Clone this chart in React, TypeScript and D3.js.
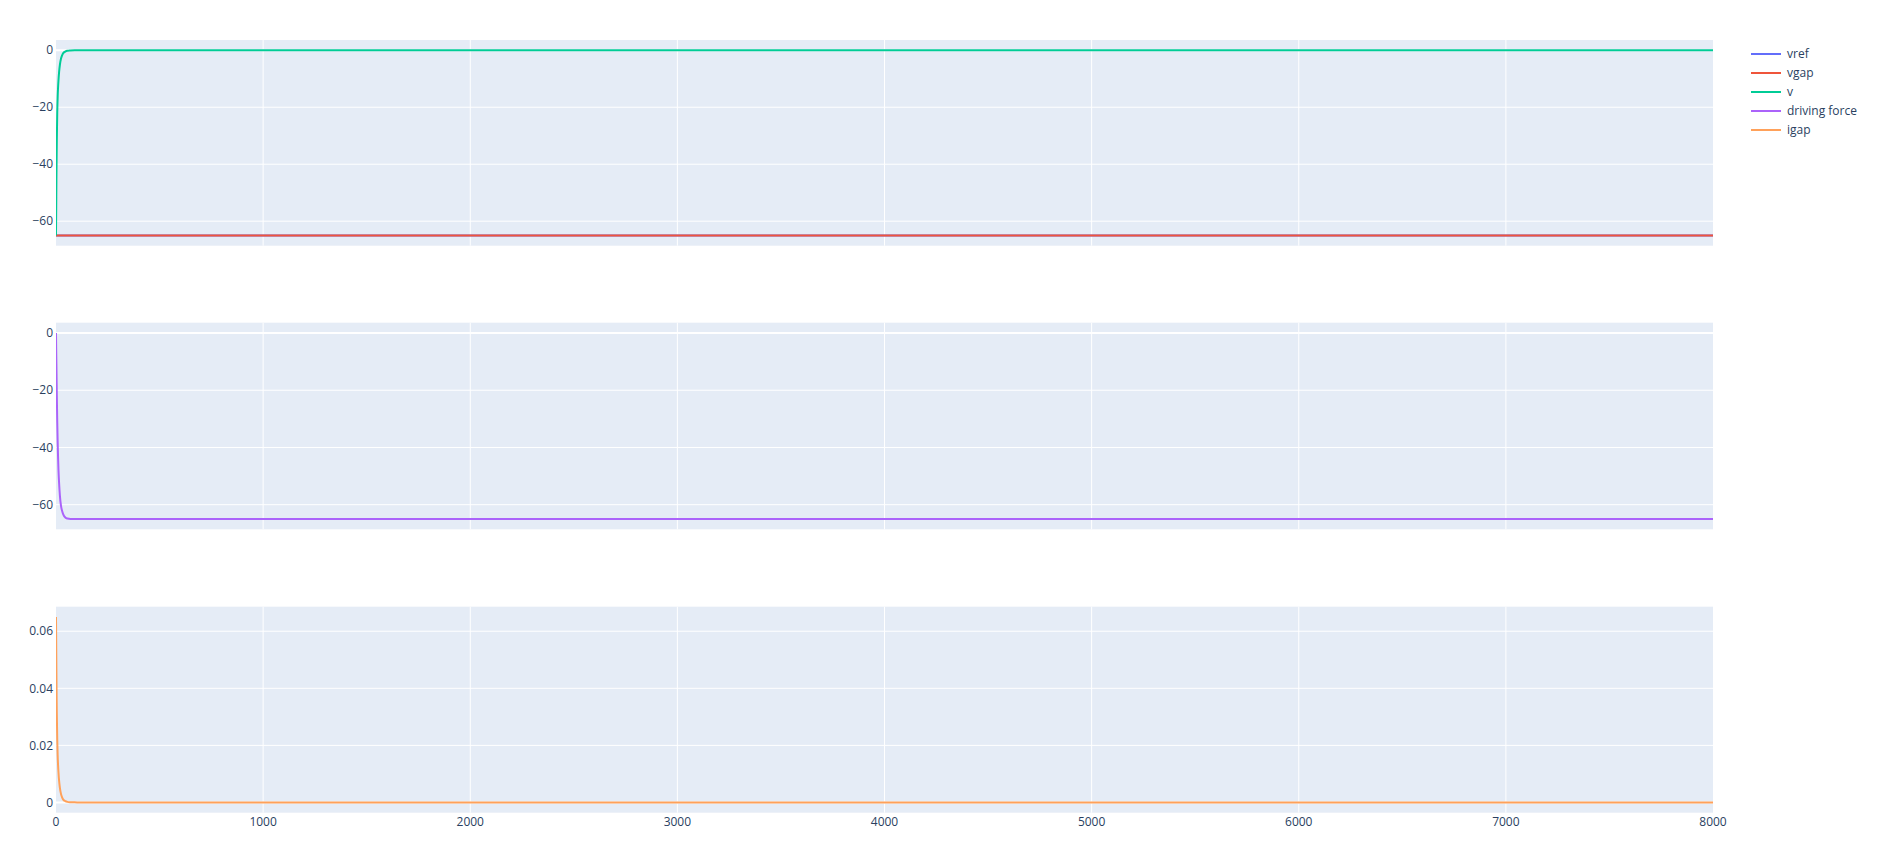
import React from "react";
import { scaleLinear, line, curveMonotoneX, format } from "d3";

// sample times (ms) — dense at the start where everything happens
const times = [0, 1, 2, 3, 4, 6, 8, 10, 12, 15, 19, 24, 30, 35, 45, 55, 70, 90, 120, 8000];

// vref sits under vgap in the reference (not visible on its own)
const vref = [-65, -65, -65, -65, -65, -65, -65, -65, -65, -65, -65, -65, -65, -65, -65, -65, -65, -65, -65, -65];
const vgap = [-65, -65, -65, -65, -65, -65, -65, -65, -65, -65, -65, -65, -65, -65, -65, -65, -65, -65, -65, -65];
const v = [-65, -56, -46, -38, -31.5, -22, -16.5, -13, -10.5, -7.6, -5.0, -3.0, -1.7, -1.0, -0.45, -0.2, -0.08, -0.02, 0, 0];
const drivingForce = [0, -6, -11, -16.5, -22, -31, -38, -43.5, -48, -52.5, -57, -60.3, -62.3, -63.4, -64.5, -64.85, -65, -65, -65, -65];
const igap = [0.065, 0.056, 0.046, 0.037, 0.031, 0.022, 0.0165, 0.013, 0.0105, 0.0076, 0.005, 0.003, 0.0017, 0.001, 0.00045, 0.0002, 0.00008, 0.00002, 0, 0];

const xTicks = [0, 1000, 2000, 3000, 4000, 5000, 6000, 7000, 8000];
const voltTicks = [-60, -40, -20, 0];
const currentTicks = [0, 0.02, 0.04, 0.06];

const legendNames = ["vref", "vgap", "v", "driving force", "igap"];
const colors = ["#636efa", "#EF553B", "#00cc96", "#ab63fa", "#FFA15A"];

const W = 1877;
const H = 853;
const left = 56;
const right = 1713;
const font = "'Open Sans', verdana, arial, sans-serif";
const textColor = "#2a3f5f";

const x = scaleLinear().domain([0, 8000]).range([left, right]);

const panels = [
  { top: 40, bottom: 245.7, domain: [-68.6, 3.6], ticks: voltTicks, fmt: (d: number) => format("d")(d), series: [0, 1, 2] },
  { top: 322.7, bottom: 529.3, domain: [-68.6, 3.6], ticks: voltTicks, fmt: (d: number) => format("d")(d), series: [3] },
  {
    top: 606.7,
    bottom: 812.7,
    domain: [-0.0036, 0.0686],
    ticks: currentTicks,
    fmt: (d: number) => (d === 0 ? "0" : format(".2f")(d)),
    series: [4],
  },
];

const seriesData = [vref, vgap, v, drivingForce, igap];

export default function App() {
  return (
    <svg
      width={W}
      height={H}
      style={{ position: "absolute", left: 0, top: 0, background: "#fff" }}
      fontFamily={font}
    >
      {panels.map((p, pi) => {
        const y = scaleLinear().domain(p.domain).range([p.bottom, p.top]);
        const clipId = `clip-${pi}`;
        return (
          <g key={pi}>
            <defs>
              <clipPath id={clipId}>
                <rect x={left} y={p.top} width={right - left} height={p.bottom - p.top} />
              </clipPath>
            </defs>
            <rect x={left} y={p.top} width={right - left} height={p.bottom - p.top} fill="#E5ECF6" />
            {/* vertical grid */}
            {xTicks.slice(1, -1).map((t) => (
              <line key={t} x1={x(t)} x2={x(t)} y1={p.top} y2={p.bottom} stroke="#fff" strokeWidth={1} />
            ))}
            {/* horizontal grid + labels */}
            {p.ticks.map((t) => (
              <g key={t}>
                <line
                  x1={left}
                  x2={right}
                  y1={y(t)}
                  y2={y(t)}
                  stroke="#fff"
                  strokeWidth={t === 0 ? 2 : 1}
                />
                <text x={left - 3} y={y(t)} dy="0.35em" textAnchor="end" fontSize={12} fill={textColor}>
                  {p.fmt(t)}
                </text>
              </g>
            ))}
            <g clipPath={`url(#${clipId})`}>
              {p.series.map((si) => {
                const path = line<number>()
                  .x((_, i) => x(times[i]))
                  .y((d) => y(d))
                  .curve(curveMonotoneX)(seriesData[si]);
                return (
                  <path key={si} d={path ?? ""} fill="none" stroke={colors[si]} strokeWidth={2} />
                );
              })}
            </g>
          </g>
        );
      })}

      {/* x axis labels under the last panel */}
      {xTicks.map((t) => (
        <text key={t} x={x(t)} y={826} textAnchor="middle" fontSize={12} fill={textColor}>
          {t}
        </text>
      ))}

      {/* legend */}
      {legendNames.map((name, i) => {
        const ly = 54 + i * 19;
        return (
          <g key={name}>
            <line x1={1751} x2={1781} y1={ly} y2={ly} stroke={colors[i]} strokeWidth={2} />
            <text x={1787} y={ly} dy="0.35em" fontSize={12} fill={textColor}>
              {name}
            </text>
          </g>
        );
      })}
    </svg>
  );
}
